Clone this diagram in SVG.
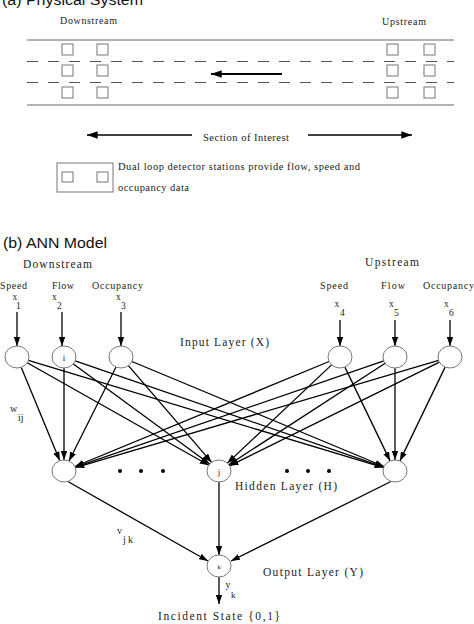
<svg xmlns="http://www.w3.org/2000/svg" width="474" height="624" viewBox="0 0 474 624">
<defs>
<style>
.t{font-family:"Liberation Serif","Times New Roman",serif;fill:#222;}
.h{font-family:"Liberation Sans",Arial,sans-serif;fill:#111;font-size:14px;}
.road{stroke:#666;stroke-width:1;fill:none;}
.dash{stroke:#555;stroke-width:1;stroke-dasharray:11 10;fill:none;}
.det{stroke:#777;stroke-width:1;fill:none;}
.n{stroke:#777;stroke-width:1;fill:#fff;}
.c{stroke:#000;stroke-width:1.3;fill:none;marker-end:url(#ah);}
.a{stroke:#000;stroke-width:1.5;fill:none;}
</style>
<marker id="ah" viewBox="0 0 10 7" refX="10" refY="3.5" markerWidth="9" markerHeight="6.5" markerUnits="userSpaceOnUse" orient="auto">
<path d="M0,0 L10,3.5 L0,7 z" fill="#000"/>
</marker>
<marker id="ah2" viewBox="0 0 10 7" refX="10" refY="3.5" markerWidth="11" markerHeight="7.5" markerUnits="userSpaceOnUse" orient="auto-start-reverse">
<path d="M0,0 L10,3.5 L0,7 z" fill="#000"/>
</marker>
</defs>
<rect width="474" height="624" fill="#fff"/>

<!-- (a) Physical System -->
<g id="physical-system">
<text class="h" x="2" y="4.5" textLength="141" lengthAdjust="spacingAndGlyphs">(a) Physical System</text>
<text class="t" x="60" y="24" font-size="10" textLength="57" lengthAdjust="spacing">Downstream</text>
<text class="t" x="382" y="25" font-size="10" textLength="44" lengthAdjust="spacing">Upstream</text>
<line class="road" x1="27" y1="40" x2="454" y2="40"/>
<line class="dash" x1="27" y1="61.5" x2="454" y2="61.5"/>
<line class="dash" x1="27" y1="82.5" x2="454" y2="82.5"/>
<line class="road" x1="27" y1="105" x2="454" y2="105"/>
<g id="detectors">
<rect class="det" x="62" y="44" width="11" height="11"/>
<rect class="det" x="97" y="44" width="11" height="11"/>
<rect class="det" x="387" y="44" width="11" height="11"/>
<rect class="det" x="424" y="44" width="11" height="11"/>
<rect class="det" x="62" y="65" width="11" height="11"/>
<rect class="det" x="97" y="65" width="11" height="11"/>
<rect class="det" x="387" y="65" width="11" height="11"/>
<rect class="det" x="424" y="65" width="11" height="11"/>
<rect class="det" x="62" y="87" width="11" height="11"/>
<rect class="det" x="97" y="87" width="11" height="11"/>
<rect class="det" x="387" y="87" width="11" height="11"/>
<rect class="det" x="424" y="87" width="11" height="11"/>
</g>
<line x1="282" y1="74" x2="211" y2="74" stroke="#000" stroke-width="2" marker-end="url(#ah2)"/>
<line class="a" x1="192" y1="135" x2="87" y2="135" marker-end="url(#ah2)"/>
<line class="a" x1="308" y1="135" x2="412" y2="135" marker-end="url(#ah2)"/>
<text class="t" x="203" y="140.5" font-size="10.5" textLength="86" lengthAdjust="spacing">Section of Interest</text>
</g>
<g id="legend">
<rect class="det" x="57" y="163" width="56" height="29"/>
<rect class="det" x="62" y="172" width="11" height="10"/>
<rect class="det" x="97" y="172" width="11" height="10"/>
<text class="t" x="118" y="170" font-size="10.5" textLength="242" lengthAdjust="spacing">Dual loop detector stations provide flow, speed and</text>
<text class="t" x="118" y="191" font-size="10.5" textLength="71" lengthAdjust="spacing">occupancy data</text>
</g>

<!-- (b) ANN Model -->
<g id="ann-labels">
<text class="h" x="3" y="248" textLength="104" lengthAdjust="spacingAndGlyphs">(b) ANN Model</text>
<text class="t" x="23" y="268" font-size="11.5" textLength="69" lengthAdjust="spacing">Downstream</text>
<text class="t" x="365" y="266" font-size="11.5" textLength="54" lengthAdjust="spacing">Upstream</text>
<text class="t" x="0" y="289" font-size="10" textLength="27" lengthAdjust="spacing">Speed</text>
<text class="t" x="52" y="289" font-size="10" textLength="22" lengthAdjust="spacing">Flow</text>
<text class="t" x="92" y="289" font-size="10" textLength="51" lengthAdjust="spacing">Occupancy</text>
<text class="t" x="320" y="289" font-size="10" textLength="28" lengthAdjust="spacing">Speed</text>
<text class="t" x="381" y="289" font-size="10" textLength="24" lengthAdjust="spacing">Flow</text>
<text class="t" x="423" y="289" font-size="10" textLength="51" lengthAdjust="spacing">Occupancy</text>
<text class="t" x="12.5" y="300" font-size="9.5">x</text><text class="t" x="16" y="309" font-size="9.5">1</text>
<text class="t" x="52" y="300" font-size="9.5">x</text><text class="t" x="57" y="309" font-size="9.5">2</text>
<text class="t" x="116" y="300" font-size="9.5">x</text><text class="t" x="121" y="309" font-size="9.5">3</text>
<text class="t" x="334.5" y="307" font-size="9.5">x</text><text class="t" x="340" y="316" font-size="9.5">4</text>
<text class="t" x="389" y="307" font-size="9.5">x</text><text class="t" x="394" y="316" font-size="9.5">5</text>
<text class="t" x="444" y="307" font-size="9.5">x</text><text class="t" x="449" y="316" font-size="9.5">6</text>
<text class="t" x="180" y="346" font-size="11.5" textLength="89" lengthAdjust="spacing">Input Layer (X)</text>
<text class="t" x="10" y="412" font-size="10">w</text><text class="t" x="18" y="421" font-size="10">ij</text>
<text class="t" x="235" y="490" font-size="11.5" textLength="102" lengthAdjust="spacing">Hidden Layer (H)</text>
<text class="t" x="117" y="534" font-size="10">v</text><text class="t" x="123" y="543" font-size="10" textLength="10" lengthAdjust="spacing">jk</text>
<text class="t" x="263" y="576" font-size="11.5" textLength="100" lengthAdjust="spacing">Output Layer (Y)</text>
<text class="t" x="225.5" y="588" font-size="10">y</text><text class="t" x="231" y="598" font-size="9">k</text>
<text class="t" x="158" y="620" font-size="11.5" textLength="122" lengthAdjust="spacing">Incident State {0,1}</text>
</g>

<g id="connectors">
<line class="c" x1="17" y1="312" x2="17" y2="346"/>
<line class="c" x1="62" y1="312" x2="62" y2="346"/>
<line class="c" x1="121" y1="312" x2="121" y2="346"/>
<line class="c" x1="340" y1="320" x2="340" y2="346"/>
<line class="c" x1="395" y1="320" x2="395" y2="346"/>
<line class="c" x1="450" y1="320" x2="450" y2="346"/>

<line class="c" x1="21.2" y1="367.3" x2="59.8" y2="460.7"/>
<line class="c" x1="27.2" y1="362.8" x2="208.8" y2="465.2"/>
<line class="c" x1="28.4" y1="360.4" x2="383.6" y2="467.6"/>
<line class="c" x1="64" y1="368" x2="64" y2="460"/>
<line class="c" x1="73.4" y1="363.9" x2="209.6" y2="464.1"/>
<line class="c" x1="75.2" y1="360.9" x2="383.8" y2="467.1"/>
<line class="c" x1="116" y1="367" x2="69" y2="461"/>
<line class="c" x1="128.4" y1="365.6" x2="211.6" y2="462.4"/>
<line class="c" x1="131.9" y1="361.5" x2="384.1" y2="466.5"/>
<line class="c" x1="329.1" y1="361.5" x2="74.9" y2="466.5"/>
<line class="c" x1="331.6" y1="364.9" x2="227.4" y2="463.1"/>
<line class="c" x1="344.9" y1="367.1" x2="390.1" y2="460.9"/>
<line class="c" x1="383.8" y1="360.9" x2="75.2" y2="467.1"/>
<line class="c" x1="385.2" y1="363.3" x2="228.8" y2="464.7"/>
<line class="c" x1="395" y1="368" x2="395" y2="460"/>
<line class="c" x1="438.6" y1="360.4" x2="75.4" y2="467.6"/>
<line class="c" x1="439.4" y1="362.2" x2="229.6" y2="465.8"/>
<line class="c" x1="445.1" y1="367.1" x2="399.9" y2="460.9"/>

<line class="c" x1="67" y1="481" x2="208" y2="561"/>
<line class="c" x1="219" y1="482" x2="219" y2="555"/>
<line class="c" x1="392" y1="481" x2="231" y2="561"/>
<line class="c" x1="219" y1="577" x2="219" y2="604"/>
</g>

<g id="input-layer">
<g id="x1"><ellipse class="n" cx="17" cy="357" rx="12" ry="11"/></g>
<g id="x2"><ellipse class="n" cx="64" cy="357" rx="12" ry="11"/><text class="t" x="64" y="360.5" font-size="9" text-anchor="middle">i</text></g>
<g id="x3"><ellipse class="n" cx="121" cy="357" rx="12" ry="11"/></g>
<g id="x4"><ellipse class="n" cx="340" cy="357" rx="12" ry="11"/></g>
<g id="x5"><ellipse class="n" cx="395" cy="357" rx="12" ry="11"/></g>
<g id="x6"><ellipse class="n" cx="450" cy="357" rx="12" ry="11"/></g>
</g>
<g id="hidden-layer">
<g id="h1"><ellipse class="n" cx="64" cy="471" rx="12" ry="11"/></g>
<g id="hj"><ellipse class="n" cx="219" cy="471" rx="12" ry="11"/><text class="t" x="219" y="474.5" font-size="9" text-anchor="middle">j</text></g>
<g id="h3"><ellipse class="n" cx="395" cy="471" rx="12" ry="11"/></g>
<g id="dots" fill="#000">
<circle cx="120" cy="471" r="2"/><circle cx="141" cy="471" r="2"/><circle cx="163" cy="471" r="2"/>
<circle cx="287" cy="471" r="2"/><circle cx="308" cy="471" r="2"/><circle cx="329" cy="471" r="2"/>
</g>
</g>
<g id="output-layer">
<g id="yk"><ellipse class="n" cx="219" cy="566" rx="12" ry="11"/><text class="t" x="219" y="568.5" font-size="6.5" text-anchor="middle">k</text></g>
</g>
</svg>
